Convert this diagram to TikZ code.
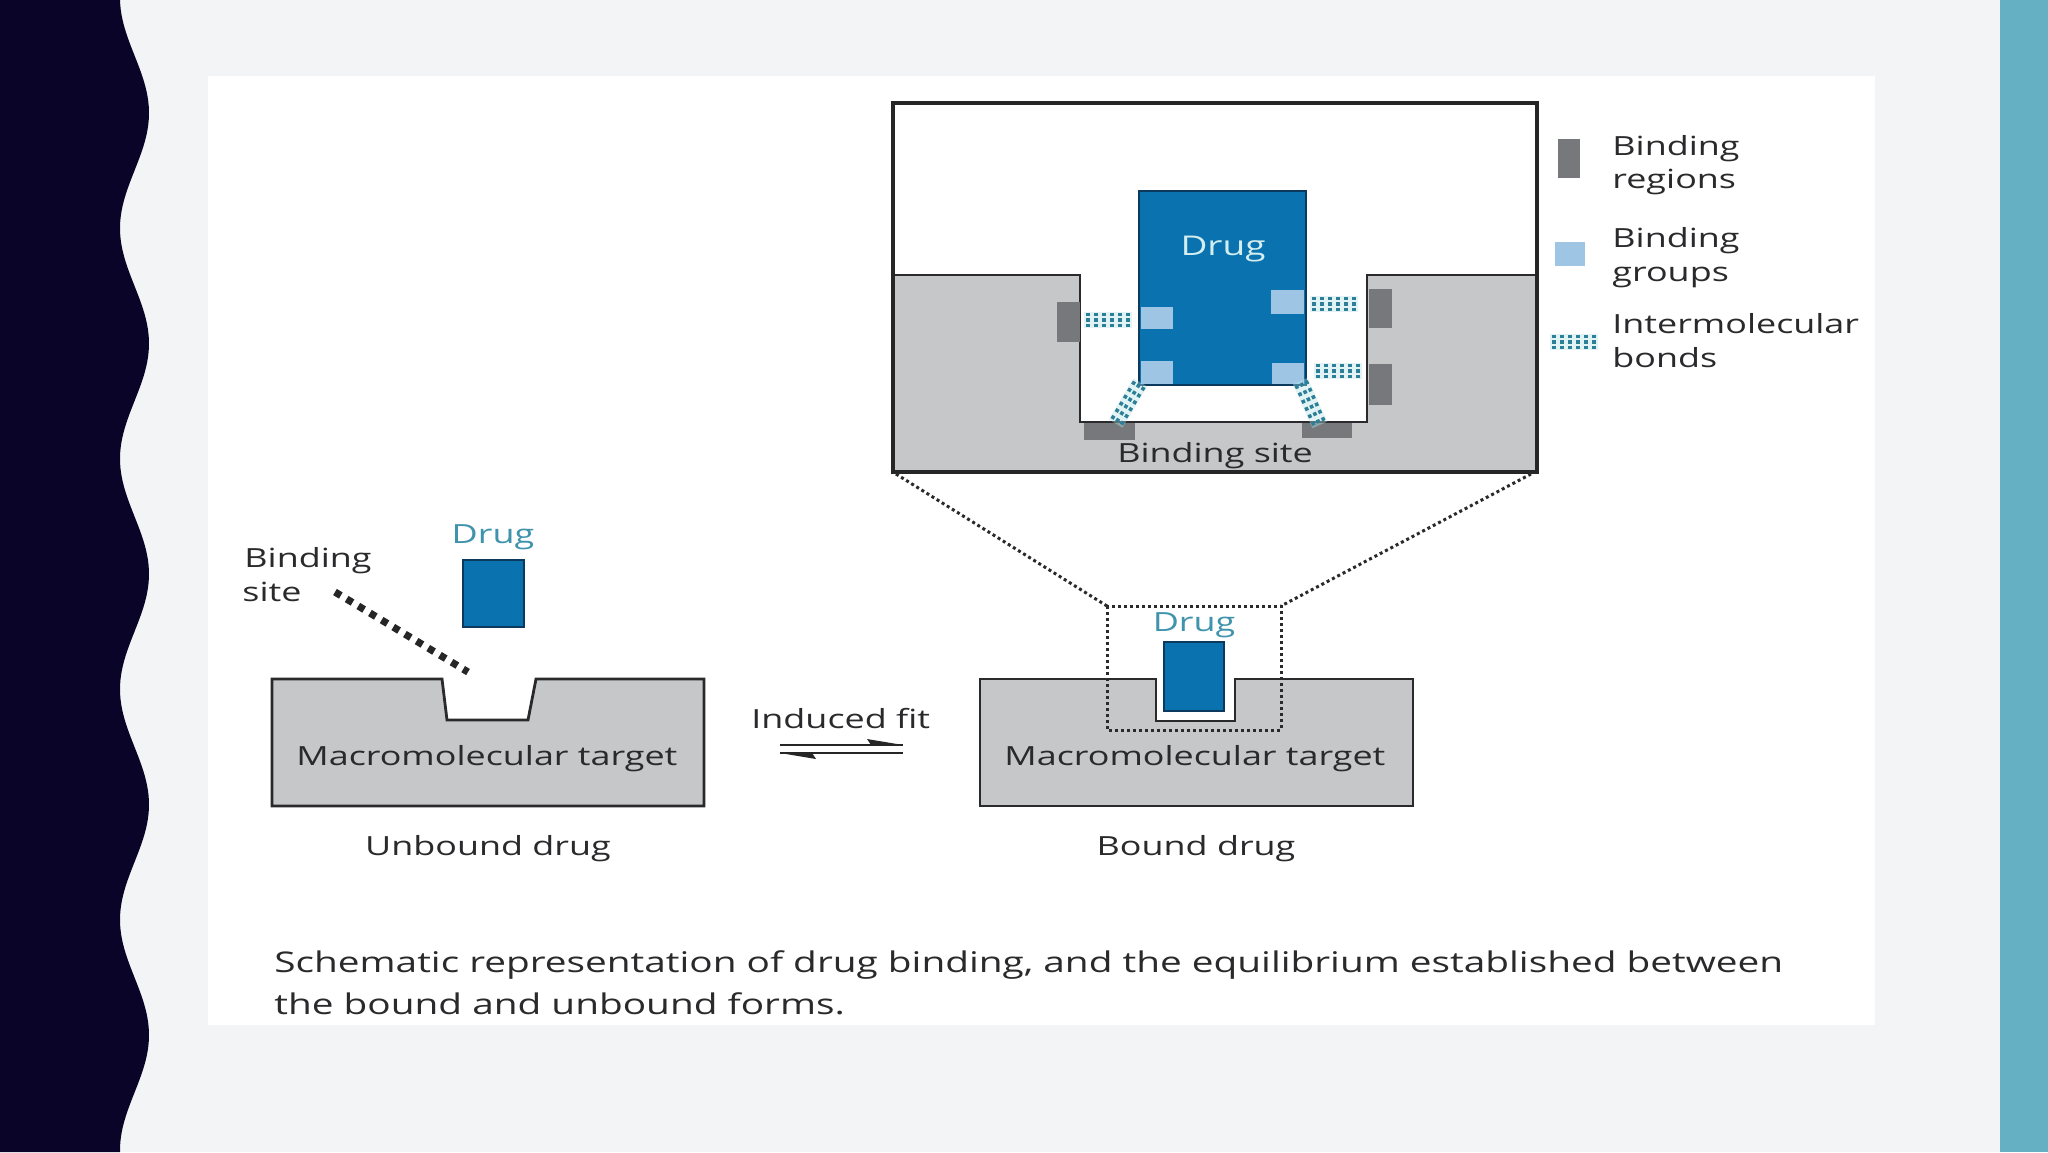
\documentclass[tikz,border=0pt]{standalone}
\usepackage{fontspec}
\setmainfont[FakeStretch=1.36]{Open Sans}
\usetikzlibrary{arrows.meta}
\definecolor{pagebg}{HTML}{F3F4F6}
\definecolor{navy}{HTML}{0A0528}
\definecolor{tealband}{HTML}{66B0C4}
\definecolor{targetgrey}{HTML}{C6C7C9}
\definecolor{regiongrey}{HTML}{77787B}
\definecolor{drugblue}{HTML}{0A72AE}
\definecolor{drugedge}{HTML}{0B3A5E}
\definecolor{groupblue}{HTML}{9EC6E4}
\definecolor{labelteal}{HTML}{3F93AC}
\definecolor{inkgrey}{HTML}{2A2A2C}
\definecolor{bondlight}{HTML}{B5E2E8}
\definecolor{bonddark}{HTML}{2C7F96}
\tikzset{
  x=0.5pt,y=-0.5pt,
  target/.style={draw=inkgrey,line width=1.4pt,fill=targetgrey,line join=miter},
  drugbox/.style={draw=drugedge,line width=1.3pt,fill=drugblue},
  region/.style={fill=regiongrey},
  group/.style={fill=groupblue},
  lab/.style={inner sep=0pt,anchor=base west,text=inkgrey,font=\fontsize{13.2pt}{15pt}\selectfont},
  clab/.style={lab,anchor=base},
  druglab/.style={clab,text=labelteal},
  caplab/.style={lab,font=\fontsize{14.25pt}{16pt}\selectfont},
  zoomline/.style={draw=inkgrey,line width=1.5pt,dash pattern=on 1.5pt off 1.5pt},
  barb/.style={fill=black!85},
  eqline/.style={draw=black!85,line width=1.2pt},
}
% bond grid centred at a point: 6 columns of 3 dots
\newcommand{\bondgrid}[3]{%
  \begin{scope}[shift={(#1,#2)},rotate=#3]
    \fill[bondlight,opacity=.4] (-24,-8) rectangle (24,8);
    \foreach \ci in {0,...,5}{\foreach \ri in {-1,0,1}{
      \fill[bonddark] (-20+\ci*8-1.8,\ri*5.5-1.8) rectangle ++(3.6,3.6);
    }}
  \end{scope}}
\begin{document}
\begin{tikzpicture}
\useasboundingbox (0,0) rectangle (2048,1152);
\fill[pagebg] (0,0) rectangle (2048,1152);
\fill[tealband] (2000,0) rectangle (2048,1152);
\fill[navy] (0,0) -- plot[domain=0:1152,samples=240,variable=\t] ({134.5+14.5*cos(1.56182*(\t-113))},\t) -- (0,1152) -- cycle;
\fill[white] (208,76) rectangle (1875,1025);

% inset
\fill[targetgrey] (893,275) -- (1080,275) -- (1080,422) -- (1367,422) -- (1367,275) -- (1537,275) -- (1537,472) -- (893,472) -- cycle;
\draw[draw=inkgrey,line width=1.4pt] (893,275) -- (1080,275) -- (1080,422) -- (1367,422) -- (1367,275) -- (1537,275);
\fill[region] (1057,302) rectangle (1080,342);
\fill[region] (1369,289) rectangle (1392,328);
\fill[region] (1369,364) rectangle (1392,405);
\fill[region] (1084,423) rectangle (1135,440);
\fill[region] (1302,423) rectangle (1352,438);
\draw[drugbox] (1139,191) rectangle (1306,385);
\fill[group] (1141,307) rectangle (1173,329);
\fill[group] (1141,361) rectangle (1173,384);
\fill[group] (1271,290) rectangle (1304,314);
\fill[group] (1272,363) rectangle (1304,384);
\bondgrid{1108}{320}{0}
\bondgrid{1334}{304}{0}
\bondgrid{1338}{371}{0}
\bondgrid{1128}{403}{59}
\bondgrid{1310}{403}{-66}
\node[clab,text=bondlight!60!white,font=\fontsize{13.6pt}{16pt}\selectfont] (insetdrug) at (1223,255) {Drug};
\node[clab] (insetsite) at (1215,462) {Binding site};
\draw[draw=black!85,line width=2pt] (893,103) rectangle (1537,472);
\coordinate (insetBL) at (896,474);
\coordinate (insetBR) at (1531,474);

% legend
\fill[region] (1558,139) rectangle (1580,178);
\fill[group] (1555,242) rectangle (1585,266);
\bondgrid{1574}{342}{0}
\node[lab] (lg1a) at (1612,155) {Binding};
\node[lab] (lg1b) at (1612,188) {regions};
\node[lab] (lg2a) at (1612,247) {Binding};
\node[lab] (lg2b) at (1612,281) {groups};
\node[lab] (lg3a) at (1612,333) {Intermolecular};
\node[lab] (lg3b) at (1612,367) {bonds};

% unbound
\node[druglab] (udrug) at (493,543) {Drug};
\draw[drugbox] (463,560) rectangle (524,627);
\node[lab] (usite1) at (244,567) {Binding};
\node[lab] (usite2) at (242,601) {site};
\coordinate (sitefrom) at (335,592);
\coordinate (siteto) at (468,672);
\draw[draw=black!85,line width=3.6pt,dash pattern=on 3.4pt off 3.4pt] (sitefrom) -- (siteto);
\draw[target] (272,679) -- (442,679) -- (447,720) -- (528,720) -- (536,679) -- (704,679) -- (704,806) -- (272,806) -- cycle;
\node[lab] (umacro) at (296,765) {Macromolecular target};
\node[clab] (ucap) at (488,855) {Unbound drug};

% equilibrium
\node[lab] (fit) at (751,728) {Induced fit};
\coordinate (fwdA) at (780,745);
\coordinate (fwdB) at (903,745);
\coordinate (bakA) at (903,753);
\coordinate (bakB) at (780,753);
\draw[eqline] (fwdA) -- (fwdB);
\fill[barb] (fwdB) -- ++(-36,-6) -- ++(4,6) -- cycle;
\draw[eqline] (bakA) -- (bakB);
\fill[barb] (bakB) -- ++(36,6) -- ++(-4,-6) -- cycle;

% bound
\draw[target] (980,679) -- (1156,679) -- (1156,721) -- (1235,721) -- (1235,679) -- (1413,679) -- (1413,806) -- (980,806) -- cycle;
\draw[drugbox] (1164,642) rectangle (1224,711);
\node[druglab] (bdrug) at (1194,631) {Drug};
\node[lab] (bmacro) at (1004,765) {Macromolecular target};
\node[clab] (bcap) at (1196,855) {Bound drug};
\draw[zoomline] (1107,606) rectangle (1281,730);
\coordinate (boxTL) at (1107,606);
\coordinate (boxTR) at (1281,606);
\draw[zoomline] (insetBL) -- (boxTL);
\draw[zoomline] (insetBR) -- (boxTR);

% caption
\node[caplab] (cap1) at (274,972) {Schematic representation of drug binding, and the equilibrium established between};
\node[caplab] (cap2) at (274,1014) {the bound and unbound forms.};
\end{tikzpicture}
\end{document}
